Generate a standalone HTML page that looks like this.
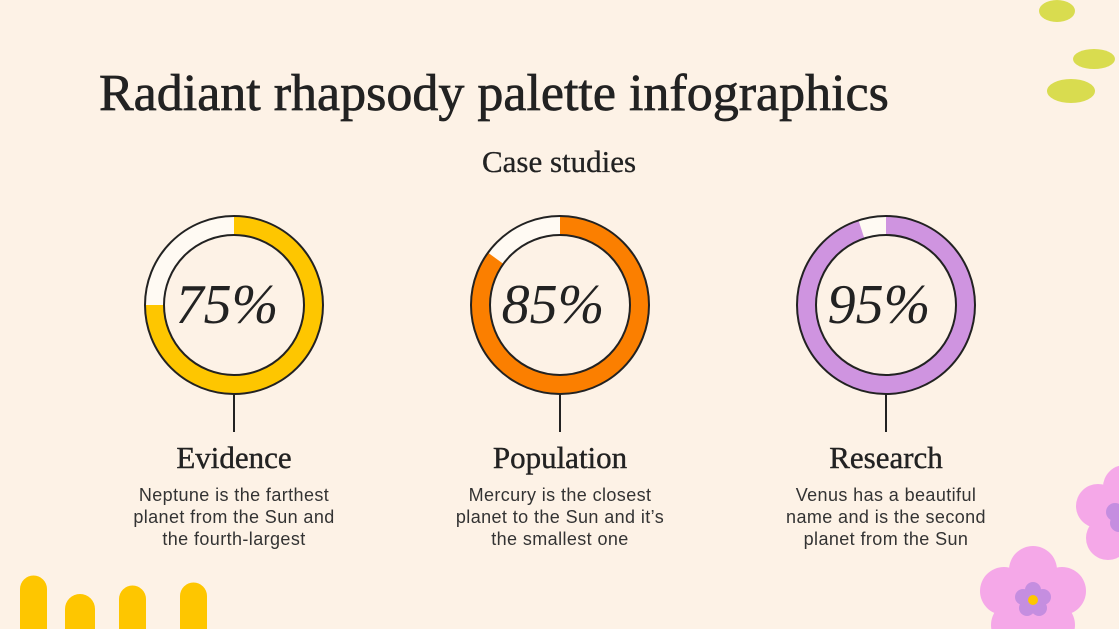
<!DOCTYPE html>
<html><head><meta charset="utf-8"><style>
html,body{margin:0;width:1119px;height:629px;overflow:hidden}
body{background:#fdf2e6;font-family:"Liberation Sans",sans-serif;color:#222;position:relative}
svg{position:absolute;left:0;top:0;overflow:hidden;display:block}
</style></head><body>
<svg width="1119" height="629" viewBox="0 0 1119 629">
<defs><clipPath id="frame"><rect x="0" y="0" width="1119" height="629"/></clipPath></defs>
<g clip-path="url(#frame)">
<ellipse cx="1057" cy="11" rx="18" ry="11" fill="#d9dc4f"/>
<ellipse cx="1094" cy="59" rx="21" ry="10" fill="#d9dc4f"/>
<ellipse cx="1071" cy="91" rx="24" ry="12" fill="#d9dc4f"/>
<path d="M20,629 V589 A13.5,13.5 0 0 1 47,589 V629 Z" fill="#fec600"/>
<path d="M65,629 V609 A15,15 0 0 1 95,609 V629 Z" fill="#fec600"/>
<path d="M119,629 V599 A13.5,13.5 0 0 1 146,599 V629 Z" fill="#fec600"/>
<path d="M180,629 V596 A13.5,13.5 0 0 1 207,596 V629 Z" fill="#fec600"/>
<g transform="translate(1033,600)">
<g fill="#f5a8e8"><circle cx="0" cy="-30" r="24"/><circle cx="29" cy="-9" r="24"/><circle cx="18" cy="25" r="24"/><circle cx="-18" cy="25" r="24"/><circle cx="-29" cy="-9" r="24"/><circle r="27"/></g>
<g fill="#c58ee0"><circle cx="0" cy="-10" r="8"/><circle cx="10" cy="-3" r="8"/><circle cx="6" cy="8" r="8"/><circle cx="-6" cy="8" r="8"/><circle cx="-10" cy="-3" r="8"/></g>
<circle r="5" fill="#fec600"/></g>
<g transform="translate(1125,515)">
<g fill="#f5a8e8"><circle cx="0" cy="-28" r="22"/><circle cx="27" cy="-9" r="22"/><circle cx="17" cy="23" r="22"/><circle cx="-17" cy="23" r="22"/><circle cx="-27" cy="-9" r="22"/><circle r="25"/></g>
<g fill="#c58ee0"><circle cx="-10" cy="-3" r="9"/><circle cx="-6" cy="8" r="9"/></g></g>
</g>
<text x="99" y="110" font-family="Liberation Serif,serif" font-size="52" fill="#222" stroke="#222" stroke-width="0.7">Radiant rhapsody palette infographics</text>
<text x="559" y="172" text-anchor="middle" font-family="Liberation Serif,serif" font-size="31" fill="#222" stroke="#222" stroke-width="0.3">Case studies</text>
<g id="charts"></g>
</svg>
<script>
const labels=["Evidence","Population","Research"];
const values=[75,85,95];
const colors=["#fec600","#fb7f00","#cf94e0"];
const texts=[["Neptune is the farthest","planet from the Sun and","the fourth-largest"],["Mercury is the closest","planet to the Sun and it’s","the smallest one"],["Venus has a beautiful","name and is the second","planet from the Sun"]];
const NS="http://www.w3.org/2000/svg";
const cxs=[234,560,886],cy=305,R=89,r=70;
const g=document.getElementById('charts');
function mk(t,a,p){const e=document.createElementNS(NS,t);for(const k in a)e.setAttribute(k,a[k]);(p||g).appendChild(e);return e;}
function pt(rad,f){const a=2*Math.PI*f-Math.PI/2;return [rad*Math.cos(a),rad*Math.sin(a)];}
values.forEach((v,i)=>{
 const cx=cxs[i];
 const grp=mk('g',{});
 
 
 mk('circle',{cx:cx,cy:cy,r:R,fill:'#fffaf3'},grp);
 const f=v/100,big=f>0.5?1:0;
 const [x1,y1]=pt(R,f),[x2,y2]=pt(r,f);
 const arc=mk('path',{d:`M${cx},${cy-R} A${R},${R} 0 ${big} 1 ${cx+x1},${cy+y1} L${cx+x2},${cy+y2} A${r},${r} 0 ${big} 0 ${cx},${cy-r} Z`,fill:colors[i]},grp);
 
 
 mk('circle',{cx:cx,cy:cy,r:R,fill:'none',stroke:'#222','stroke-width':2},grp);
 mk('circle',{cx:cx,cy:cy,r:r,fill:'#fdf2e6',stroke:'#222','stroke-width':2},grp);
 const pv=mk('text',{x:cx-7,y:cy+18,'text-anchor':'middle','font-family':'Liberation Serif,serif','font-style':'italic','font-size':56,fill:'#222'},grp);
 pv.textContent=v+'%';
 
 
 mk('line',{x1:cx,y1:cy+R,x2:cx,y2:432,stroke:'#222','stroke-width':2},grp);
 const t=mk('text',{x:cx,y:468,'text-anchor':'middle','font-family':'Liberation Serif,serif','font-size':31,fill:'#222',stroke:'#222','stroke-width':0.4},grp);
 t.textContent=labels[i];
 
 
 texts[i].forEach((s,j)=>{
  const d=mk('text',{x:cx,y:501+j*22,'text-anchor':'middle','font-family':'Liberation Sans,sans-serif','font-size':18,'letter-spacing':0.4,fill:'#333'},grp);
  d.textContent=s;
  
  
 });
});
</script>
</body></html>
